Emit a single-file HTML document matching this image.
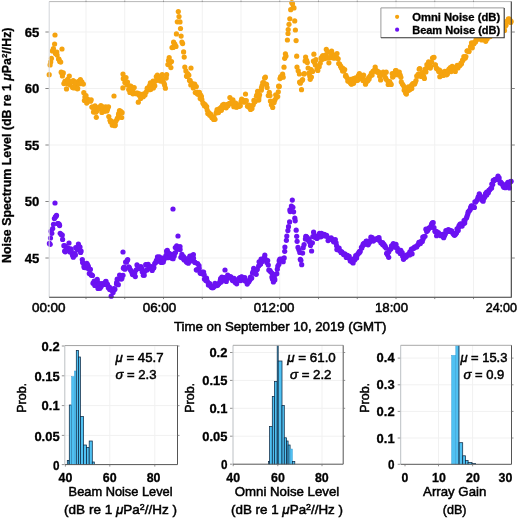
<!DOCTYPE html>
<html><head><meta charset="utf-8"><title>Noise spectrum level</title>
<style>html,body{margin:0;padding:0;background:#fff}svg{display:block}</style></head>
<body>
<svg width="520" height="519" viewBox="0 0 520 519" font-family="'Liberation Sans', sans-serif" fill="#000">
<style>text{stroke:#000;stroke-width:0.5px}text[font-weight=bold]{stroke-width:0.3px}</style>
<rect x="0" y="0" width="520" height="519" fill="#fff"/>
<path d="M86.00 1.6V297.3 M124.75 1.6V297.3 M163.50 1.6V297.3 M202.25 1.6V297.3 M241.00 1.6V297.3 M279.75 1.6V297.3 M318.50 1.6V297.3 M357.25 1.6V297.3 M396.00 1.6V297.3 M434.75 1.6V297.3 M473.50 1.6V297.3 M49.2 32.00H511.3 M49.2 88.50H511.3 M49.2 145.00H511.3 M49.2 201.50H511.3 M49.2 258.00H511.3" stroke="#f1f1f1" stroke-width="1" fill="none"/>
<g fill="#f5a30f"><circle cx="49.2" cy="74.7" r="2.6"/><circle cx="50.1" cy="64.9" r="2.6"/><circle cx="50.7" cy="61.9" r="2.6"/><circle cx="51.4" cy="58.4" r="2.6"/><circle cx="52.4" cy="51.0" r="2.6"/><circle cx="53.2" cy="50.2" r="2.6"/><circle cx="53.4" cy="48.6" r="2.6"/><circle cx="54.6" cy="44.0" r="2.6"/><circle cx="55.4" cy="53.2" r="2.6"/><circle cx="55.8" cy="53.6" r="2.6"/><circle cx="56.8" cy="52.0" r="2.6"/><circle cx="57.1" cy="55.1" r="2.6"/><circle cx="58.6" cy="59.0" r="2.6"/><circle cx="58.9" cy="59.1" r="2.6"/><circle cx="59.7" cy="61.4" r="2.6"/><circle cx="60.7" cy="62.1" r="2.6"/><circle cx="61.2" cy="72.2" r="2.6"/><circle cx="62.1" cy="73.2" r="2.6"/><circle cx="62.4" cy="75.9" r="2.6"/><circle cx="63.3" cy="72.9" r="2.6"/><circle cx="63.9" cy="83.6" r="2.6"/><circle cx="64.9" cy="81.3" r="2.6"/><circle cx="66.0" cy="81.0" r="2.6"/><circle cx="66.5" cy="88.9" r="2.6"/><circle cx="67.4" cy="83.7" r="2.6"/><circle cx="67.7" cy="79.3" r="2.6"/><circle cx="68.5" cy="81.7" r="2.6"/><circle cx="69.3" cy="76.0" r="2.6"/><circle cx="70.3" cy="85.1" r="2.6"/><circle cx="71.0" cy="81.8" r="2.6"/><circle cx="71.7" cy="81.6" r="2.6"/><circle cx="72.6" cy="87.5" r="2.6"/><circle cx="73.2" cy="80.7" r="2.6"/><circle cx="73.9" cy="87.9" r="2.6"/><circle cx="75.0" cy="81.8" r="2.6"/><circle cx="75.3" cy="85.4" r="2.6"/><circle cx="76.2" cy="82.6" r="2.6"/><circle cx="77.4" cy="88.8" r="2.6"/><circle cx="77.7" cy="88.4" r="2.6"/><circle cx="78.6" cy="81.4" r="2.6"/><circle cx="79.0" cy="83.6" r="2.6"/><circle cx="80.4" cy="79.6" r="2.6"/><circle cx="80.1" cy="83.7" r="2.6"/><circle cx="81.2" cy="82.2" r="2.6"/><circle cx="81.9" cy="81.9" r="2.6"/><circle cx="83.4" cy="84.1" r="2.6"/><circle cx="83.8" cy="92.7" r="2.6"/><circle cx="84.4" cy="100.5" r="2.6"/><circle cx="84.9" cy="97.0" r="2.6"/><circle cx="86.0" cy="95.5" r="2.6"/><circle cx="86.7" cy="103.1" r="2.6"/><circle cx="87.3" cy="99.1" r="2.6"/><circle cx="87.8" cy="99.5" r="2.6"/><circle cx="88.7" cy="100.7" r="2.6"/><circle cx="89.8" cy="100.3" r="2.6"/><circle cx="90.5" cy="101.2" r="2.6"/><circle cx="91.2" cy="99.8" r="2.6"/><circle cx="91.9" cy="107.0" r="2.6"/><circle cx="92.3" cy="107.0" r="2.6"/><circle cx="93.5" cy="112.1" r="2.6"/><circle cx="93.9" cy="109.0" r="2.6"/><circle cx="95.0" cy="105.9" r="2.6"/><circle cx="95.8" cy="112.2" r="2.6"/><circle cx="96.3" cy="117.3" r="2.6"/><circle cx="96.9" cy="110.7" r="2.6"/><circle cx="98.2" cy="108.6" r="2.6"/><circle cx="98.8" cy="107.3" r="2.6"/><circle cx="99.3" cy="107.3" r="2.6"/><circle cx="99.4" cy="109.0" r="2.6"/><circle cx="100.9" cy="105.7" r="2.6"/><circle cx="101.9" cy="112.5" r="2.6"/><circle cx="102.7" cy="106.8" r="2.6"/><circle cx="103.0" cy="107.3" r="2.6"/><circle cx="103.8" cy="111.0" r="2.6"/><circle cx="104.6" cy="111.2" r="2.6"/><circle cx="105.7" cy="106.9" r="2.6"/><circle cx="105.9" cy="109.1" r="2.6"/><circle cx="106.9" cy="111.0" r="2.6"/><circle cx="107.5" cy="109.2" r="2.6"/><circle cx="108.5" cy="106.8" r="2.6"/><circle cx="108.8" cy="116.6" r="2.6"/><circle cx="110.0" cy="120.3" r="2.6"/><circle cx="110.6" cy="122.0" r="2.6"/><circle cx="111.4" cy="121.2" r="2.6"/><circle cx="112.3" cy="125.2" r="2.6"/><circle cx="113.2" cy="122.9" r="2.6"/><circle cx="113.3" cy="122.6" r="2.6"/><circle cx="114.7" cy="125.7" r="2.6"/><circle cx="115.3" cy="124.9" r="2.6"/><circle cx="115.9" cy="121.0" r="2.6"/><circle cx="117.1" cy="119.1" r="2.6"/><circle cx="117.5" cy="118.0" r="2.6"/><circle cx="118.5" cy="114.7" r="2.6"/><circle cx="118.8" cy="113.4" r="2.6"/><circle cx="119.5" cy="110.6" r="2.6"/><circle cx="120.8" cy="111.4" r="2.6"/><circle cx="121.7" cy="117.5" r="2.6"/><circle cx="122.1" cy="112.7" r="2.6"/><circle cx="122.9" cy="87.9" r="2.6"/><circle cx="123.3" cy="78.7" r="2.6"/><circle cx="123.9" cy="77.9" r="2.6"/><circle cx="124.9" cy="82.6" r="2.6"/><circle cx="126.1" cy="83.1" r="2.6"/><circle cx="126.0" cy="77.5" r="2.6"/><circle cx="127.1" cy="84.9" r="2.6"/><circle cx="127.5" cy="82.0" r="2.6"/><circle cx="128.7" cy="89.6" r="2.6"/><circle cx="129.7" cy="86.1" r="2.6"/><circle cx="129.9" cy="92.4" r="2.6"/><circle cx="130.8" cy="86.0" r="2.6"/><circle cx="132.0" cy="87.6" r="2.6"/><circle cx="132.4" cy="90.5" r="2.6"/><circle cx="132.9" cy="93.8" r="2.6"/><circle cx="133.6" cy="92.9" r="2.6"/><circle cx="134.2" cy="87.5" r="2.6"/><circle cx="135.6" cy="93.2" r="2.6"/><circle cx="136.0" cy="93.7" r="2.6"/><circle cx="137.2" cy="93.1" r="2.6"/><circle cx="137.9" cy="93.4" r="2.6"/><circle cx="138.3" cy="102.2" r="2.6"/><circle cx="139.1" cy="95.3" r="2.6"/><circle cx="140.1" cy="94.1" r="2.6"/><circle cx="140.7" cy="98.5" r="2.6"/><circle cx="141.5" cy="96.0" r="2.6"/><circle cx="141.8" cy="94.5" r="2.6"/><circle cx="143.2" cy="96.7" r="2.6"/><circle cx="143.5" cy="95.0" r="2.6"/><circle cx="143.9" cy="93.8" r="2.6"/><circle cx="145.0" cy="95.1" r="2.6"/><circle cx="146.1" cy="92.0" r="2.6"/><circle cx="147.2" cy="88.4" r="2.6"/><circle cx="147.4" cy="88.8" r="2.6"/><circle cx="147.9" cy="87.8" r="2.6"/><circle cx="149.5" cy="89.7" r="2.6"/><circle cx="149.7" cy="85.3" r="2.6"/><circle cx="150.4" cy="82.8" r="2.6"/><circle cx="150.9" cy="89.3" r="2.6"/><circle cx="151.7" cy="84.5" r="2.6"/><circle cx="153.1" cy="81.2" r="2.6"/><circle cx="153.4" cy="87.9" r="2.6"/><circle cx="154.1" cy="82.9" r="2.6"/><circle cx="154.8" cy="85.8" r="2.6"/><circle cx="156.1" cy="80.4" r="2.6"/><circle cx="156.3" cy="76.6" r="2.6"/><circle cx="157.4" cy="75.0" r="2.6"/><circle cx="158.0" cy="78.2" r="2.6"/><circle cx="158.8" cy="79.8" r="2.6"/><circle cx="159.2" cy="78.7" r="2.6"/><circle cx="160.4" cy="80.9" r="2.6"/><circle cx="161.4" cy="76.3" r="2.6"/><circle cx="161.7" cy="80.9" r="2.6"/><circle cx="162.2" cy="74.7" r="2.6"/><circle cx="162.9" cy="79.6" r="2.6"/><circle cx="164.0" cy="83.0" r="2.6"/><circle cx="164.6" cy="84.9" r="2.6"/><circle cx="165.4" cy="88.2" r="2.6"/><circle cx="166.2" cy="78.1" r="2.6"/><circle cx="166.6" cy="74.7" r="2.6"/><circle cx="167.9" cy="64.6" r="2.6"/><circle cx="168.5" cy="60.6" r="2.6"/><circle cx="169.2" cy="57.7" r="2.6"/><circle cx="170.0" cy="62.8" r="2.6"/><circle cx="170.9" cy="67.6" r="2.6"/><circle cx="171.5" cy="61.6" r="2.6"/><circle cx="172.0" cy="47.6" r="2.6"/><circle cx="173.2" cy="47.4" r="2.6"/><circle cx="173.6" cy="42.2" r="2.6"/><circle cx="174.3" cy="45.2" r="2.6"/><circle cx="174.8" cy="44.1" r="2.6"/><circle cx="176.0" cy="46.4" r="2.6"/><circle cx="176.4" cy="33.9" r="2.6"/><circle cx="177.3" cy="21.8" r="2.6"/><circle cx="178.3" cy="11.6" r="2.6"/><circle cx="179.0" cy="16.5" r="2.6"/><circle cx="180.0" cy="21.9" r="2.6"/><circle cx="180.5" cy="28.5" r="2.6"/><circle cx="181.1" cy="36.1" r="2.6"/><circle cx="181.9" cy="42.0" r="2.6"/><circle cx="182.6" cy="43.6" r="2.6"/><circle cx="183.6" cy="51.9" r="2.6"/><circle cx="184.2" cy="57.1" r="2.6"/><circle cx="184.8" cy="67.1" r="2.6"/><circle cx="185.9" cy="70.9" r="2.6"/><circle cx="186.5" cy="76.0" r="2.6"/><circle cx="187.1" cy="76.4" r="2.6"/><circle cx="187.6" cy="73.6" r="2.6"/><circle cx="188.8" cy="75.2" r="2.6"/><circle cx="189.5" cy="80.4" r="2.6"/><circle cx="190.2" cy="80.5" r="2.6"/><circle cx="190.8" cy="84.9" r="2.6"/><circle cx="191.5" cy="84.4" r="2.6"/><circle cx="192.4" cy="83.6" r="2.6"/><circle cx="193.3" cy="87.9" r="2.6"/><circle cx="193.9" cy="85.5" r="2.6"/><circle cx="194.7" cy="84.2" r="2.6"/><circle cx="195.3" cy="92.6" r="2.6"/><circle cx="196.3" cy="86.5" r="2.6"/><circle cx="197.0" cy="92.1" r="2.6"/><circle cx="197.5" cy="94.1" r="2.6"/><circle cx="198.6" cy="94.2" r="2.6"/><circle cx="199.4" cy="92.3" r="2.6"/><circle cx="200.2" cy="98.4" r="2.6"/><circle cx="200.7" cy="95.2" r="2.6"/><circle cx="201.4" cy="96.6" r="2.6"/><circle cx="201.9" cy="99.7" r="2.6"/><circle cx="203.1" cy="103.1" r="2.6"/><circle cx="203.2" cy="103.4" r="2.6"/><circle cx="204.4" cy="105.7" r="2.6"/><circle cx="205.1" cy="104.6" r="2.6"/><circle cx="206.2" cy="106.9" r="2.6"/><circle cx="206.7" cy="106.6" r="2.6"/><circle cx="207.2" cy="110.1" r="2.6"/><circle cx="207.8" cy="113.5" r="2.6"/><circle cx="208.8" cy="112.6" r="2.6"/><circle cx="209.7" cy="115.3" r="2.6"/><circle cx="210.5" cy="114.0" r="2.6"/><circle cx="211.2" cy="115.0" r="2.6"/><circle cx="211.8" cy="117.5" r="2.6"/><circle cx="212.6" cy="118.1" r="2.6"/><circle cx="213.7" cy="119.5" r="2.6"/><circle cx="213.9" cy="117.0" r="2.6"/><circle cx="215.0" cy="119.3" r="2.6"/><circle cx="216.1" cy="113.1" r="2.6"/><circle cx="216.6" cy="112.1" r="2.6"/><circle cx="217.1" cy="109.6" r="2.6"/><circle cx="218.1" cy="111.6" r="2.6"/><circle cx="218.5" cy="112.6" r="2.6"/><circle cx="219.5" cy="108.6" r="2.6"/><circle cx="220.6" cy="109.6" r="2.6"/><circle cx="221.4" cy="110.3" r="2.6"/><circle cx="221.3" cy="107.1" r="2.6"/><circle cx="222.6" cy="105.1" r="2.6"/><circle cx="223.7" cy="107.5" r="2.6"/><circle cx="223.8" cy="104.3" r="2.6"/><circle cx="224.8" cy="105.3" r="2.6"/><circle cx="225.8" cy="107.5" r="2.6"/><circle cx="226.1" cy="107.8" r="2.6"/><circle cx="227.1" cy="104.6" r="2.6"/><circle cx="227.7" cy="104.6" r="2.6"/><circle cx="228.0" cy="105.8" r="2.6"/><circle cx="229.3" cy="103.3" r="2.6"/><circle cx="229.9" cy="97.5" r="2.6"/><circle cx="230.9" cy="103.7" r="2.6"/><circle cx="232.0" cy="100.6" r="2.6"/><circle cx="232.4" cy="103.4" r="2.6"/><circle cx="232.9" cy="99.8" r="2.6"/><circle cx="233.8" cy="106.7" r="2.6"/><circle cx="234.5" cy="103.2" r="2.6"/><circle cx="235.5" cy="105.3" r="2.6"/><circle cx="235.6" cy="103.2" r="2.6"/><circle cx="236.4" cy="107.2" r="2.6"/><circle cx="236.9" cy="106.8" r="2.6"/><circle cx="238.4" cy="106.0" r="2.6"/><circle cx="238.9" cy="106.5" r="2.6"/><circle cx="239.5" cy="104.5" r="2.6"/><circle cx="240.3" cy="105.7" r="2.6"/><circle cx="241.1" cy="101.3" r="2.6"/><circle cx="241.7" cy="99.0" r="2.6"/><circle cx="242.6" cy="100.4" r="2.6"/><circle cx="243.3" cy="101.2" r="2.6"/><circle cx="244.5" cy="102.2" r="2.6"/><circle cx="245.0" cy="100.7" r="2.6"/><circle cx="245.5" cy="94.0" r="2.6"/><circle cx="246.3" cy="100.7" r="2.6"/><circle cx="247.5" cy="106.3" r="2.6"/><circle cx="248.1" cy="106.0" r="2.6"/><circle cx="248.8" cy="105.2" r="2.6"/><circle cx="249.6" cy="107.7" r="2.6"/><circle cx="250.6" cy="106.3" r="2.6"/><circle cx="250.6" cy="109.5" r="2.6"/><circle cx="251.5" cy="106.6" r="2.6"/><circle cx="252.0" cy="108.4" r="2.6"/><circle cx="253.3" cy="104.8" r="2.6"/><circle cx="253.9" cy="100.4" r="2.6"/><circle cx="254.5" cy="102.1" r="2.6"/><circle cx="255.3" cy="101.3" r="2.6"/><circle cx="256.4" cy="96.2" r="2.6"/><circle cx="256.9" cy="95.1" r="2.6"/><circle cx="257.6" cy="91.4" r="2.6"/><circle cx="258.8" cy="100.1" r="2.6"/><circle cx="258.9" cy="97.5" r="2.6"/><circle cx="259.6" cy="94.8" r="2.6"/><circle cx="261.3" cy="90.2" r="2.6"/><circle cx="261.4" cy="87.9" r="2.6"/><circle cx="262.1" cy="85.6" r="2.6"/><circle cx="262.8" cy="82.5" r="2.6"/><circle cx="263.7" cy="82.9" r="2.6"/><circle cx="264.6" cy="78.1" r="2.6"/><circle cx="265.4" cy="77.2" r="2.6"/><circle cx="266.1" cy="84.0" r="2.6"/><circle cx="266.6" cy="84.6" r="2.6"/><circle cx="267.1" cy="87.5" r="2.6"/><circle cx="268.3" cy="95.6" r="2.6"/><circle cx="269.3" cy="92.3" r="2.6"/><circle cx="270.0" cy="95.5" r="2.6"/><circle cx="270.4" cy="101.0" r="2.6"/><circle cx="271.4" cy="104.8" r="2.6"/><circle cx="271.9" cy="101.9" r="2.6"/><circle cx="272.7" cy="107.4" r="2.6"/><circle cx="273.1" cy="101.7" r="2.6"/><circle cx="274.1" cy="102.4" r="2.6"/><circle cx="275.0" cy="99.7" r="2.6"/><circle cx="275.7" cy="94.8" r="2.6"/><circle cx="276.6" cy="97.3" r="2.6"/><circle cx="277.7" cy="96.6" r="2.6"/><circle cx="278.3" cy="91.8" r="2.6"/><circle cx="278.6" cy="86.2" r="2.6"/><circle cx="279.3" cy="86.4" r="2.6"/><circle cx="280.0" cy="78.6" r="2.6"/><circle cx="280.7" cy="76.5" r="2.6"/><circle cx="281.7" cy="77.0" r="2.6"/><circle cx="282.6" cy="74.2" r="2.6"/><circle cx="283.2" cy="77.2" r="2.6"/><circle cx="284.0" cy="67.2" r="2.6"/><circle cx="284.7" cy="58.3" r="2.6"/><circle cx="285.4" cy="53.8" r="2.6"/><circle cx="286.0" cy="56.0" r="2.6"/><circle cx="287.4" cy="40.0" r="2.6"/><circle cx="288.0" cy="33.5" r="2.6"/><circle cx="288.2" cy="29.5" r="2.6"/><circle cx="289.0" cy="24.3" r="2.6"/><circle cx="289.8" cy="18.8" r="2.6"/><circle cx="290.7" cy="9.7" r="2.6"/><circle cx="291.8" cy="2.7" r="2.6"/><circle cx="292.5" cy="3.8" r="2.6"/><circle cx="293.2" cy="7.5" r="2.6"/><circle cx="294.0" cy="7.9" r="2.6"/><circle cx="294.7" cy="20.9" r="2.6"/><circle cx="295.4" cy="30.0" r="2.6"/><circle cx="296.1" cy="40.6" r="2.6"/><circle cx="296.7" cy="56.2" r="2.6"/><circle cx="297.0" cy="67.1" r="2.6"/><circle cx="298.2" cy="70.8" r="2.6"/><circle cx="299.4" cy="74.0" r="2.6"/><circle cx="299.6" cy="82.0" r="2.6"/><circle cx="300.3" cy="83.2" r="2.6"/><circle cx="301.5" cy="89.7" r="2.6"/><circle cx="302.0" cy="80.5" r="2.6"/><circle cx="302.6" cy="79.5" r="2.6"/><circle cx="303.8" cy="74.0" r="2.6"/><circle cx="304.4" cy="73.7" r="2.6"/><circle cx="305.1" cy="61.0" r="2.6"/><circle cx="305.6" cy="57.0" r="2.6"/><circle cx="306.6" cy="60.3" r="2.6"/><circle cx="307.3" cy="62.6" r="2.6"/><circle cx="308.1" cy="68.0" r="2.6"/><circle cx="309.0" cy="73.0" r="2.6"/><circle cx="309.7" cy="75.9" r="2.6"/><circle cx="310.2" cy="79.3" r="2.6"/><circle cx="311.1" cy="69.5" r="2.6"/><circle cx="311.4" cy="77.0" r="2.6"/><circle cx="312.6" cy="71.5" r="2.6"/><circle cx="313.4" cy="61.0" r="2.6"/><circle cx="313.9" cy="54.2" r="2.6"/><circle cx="314.5" cy="62.6" r="2.6"/><circle cx="315.4" cy="64.9" r="2.6"/><circle cx="315.9" cy="59.7" r="2.6"/><circle cx="317.0" cy="69.1" r="2.6"/><circle cx="317.8" cy="70.5" r="2.6"/><circle cx="318.2" cy="66.9" r="2.6"/><circle cx="319.2" cy="66.7" r="2.6"/><circle cx="320.2" cy="63.3" r="2.6"/><circle cx="321.0" cy="58.1" r="2.6"/><circle cx="321.7" cy="59.7" r="2.6"/><circle cx="322.2" cy="56.6" r="2.6"/><circle cx="322.9" cy="55.7" r="2.6"/><circle cx="323.6" cy="57.8" r="2.6"/><circle cx="324.6" cy="58.6" r="2.6"/><circle cx="325.8" cy="54.8" r="2.6"/><circle cx="326.3" cy="49.4" r="2.6"/><circle cx="327.1" cy="58.1" r="2.6"/><circle cx="327.8" cy="51.9" r="2.6"/><circle cx="327.8" cy="57.5" r="2.6"/><circle cx="328.9" cy="62.8" r="2.6"/><circle cx="329.6" cy="57.8" r="2.6"/><circle cx="330.8" cy="53.5" r="2.6"/><circle cx="331.6" cy="51.2" r="2.6"/><circle cx="331.8" cy="57.6" r="2.6"/><circle cx="332.7" cy="54.4" r="2.6"/><circle cx="333.6" cy="56.6" r="2.6"/><circle cx="334.1" cy="58.2" r="2.6"/><circle cx="334.8" cy="55.8" r="2.6"/><circle cx="335.5" cy="57.2" r="2.6"/><circle cx="336.7" cy="57.6" r="2.6"/><circle cx="337.0" cy="53.6" r="2.6"/><circle cx="338.2" cy="58.8" r="2.6"/><circle cx="338.7" cy="63.5" r="2.6"/><circle cx="339.6" cy="64.0" r="2.6"/><circle cx="340.6" cy="66.3" r="2.6"/><circle cx="340.8" cy="66.3" r="2.6"/><circle cx="341.5" cy="68.2" r="2.6"/><circle cx="342.6" cy="70.9" r="2.6"/><circle cx="342.9" cy="68.4" r="2.6"/><circle cx="343.8" cy="71.0" r="2.6"/><circle cx="344.7" cy="69.6" r="2.6"/><circle cx="345.5" cy="76.0" r="2.6"/><circle cx="345.9" cy="75.4" r="2.6"/><circle cx="346.9" cy="77.6" r="2.6"/><circle cx="347.8" cy="80.9" r="2.6"/><circle cx="348.8" cy="81.2" r="2.6"/><circle cx="348.7" cy="80.1" r="2.6"/><circle cx="350.3" cy="82.8" r="2.6"/><circle cx="350.9" cy="79.4" r="2.6"/><circle cx="351.2" cy="84.1" r="2.6"/><circle cx="351.8" cy="83.9" r="2.6"/><circle cx="353.1" cy="78.9" r="2.6"/><circle cx="353.6" cy="83.3" r="2.6"/><circle cx="354.5" cy="78.3" r="2.6"/><circle cx="355.4" cy="80.6" r="2.6"/><circle cx="355.9" cy="77.9" r="2.6"/><circle cx="356.7" cy="80.2" r="2.6"/><circle cx="357.6" cy="80.3" r="2.6"/><circle cx="358.4" cy="75.5" r="2.6"/><circle cx="359.4" cy="73.6" r="2.6"/><circle cx="360.1" cy="75.9" r="2.6"/><circle cx="360.5" cy="78.3" r="2.6"/><circle cx="361.1" cy="76.9" r="2.6"/><circle cx="362.5" cy="77.4" r="2.6"/><circle cx="362.9" cy="80.6" r="2.6"/><circle cx="363.6" cy="75.1" r="2.6"/><circle cx="363.9" cy="80.3" r="2.6"/><circle cx="365.1" cy="79.8" r="2.6"/><circle cx="365.5" cy="84.2" r="2.6"/><circle cx="366.3" cy="81.9" r="2.6"/><circle cx="366.9" cy="80.2" r="2.6"/><circle cx="367.8" cy="80.7" r="2.6"/><circle cx="368.7" cy="77.5" r="2.6"/><circle cx="369.1" cy="79.1" r="2.6"/><circle cx="370.0" cy="76.2" r="2.6"/><circle cx="370.9" cy="75.3" r="2.6"/><circle cx="371.4" cy="73.2" r="2.6"/><circle cx="372.1" cy="74.9" r="2.6"/><circle cx="373.0" cy="71.4" r="2.6"/><circle cx="373.6" cy="71.1" r="2.6"/><circle cx="374.9" cy="69.6" r="2.6"/><circle cx="375.2" cy="67.0" r="2.6"/><circle cx="376.4" cy="70.7" r="2.6"/><circle cx="377.2" cy="71.3" r="2.6"/><circle cx="377.4" cy="72.2" r="2.6"/><circle cx="378.5" cy="71.8" r="2.6"/><circle cx="379.1" cy="72.7" r="2.6"/><circle cx="379.7" cy="76.2" r="2.6"/><circle cx="380.6" cy="80.0" r="2.6"/><circle cx="381.4" cy="73.6" r="2.6"/><circle cx="382.4" cy="75.1" r="2.6"/><circle cx="383.2" cy="72.0" r="2.6"/><circle cx="383.4" cy="73.1" r="2.6"/><circle cx="384.3" cy="73.5" r="2.6"/><circle cx="385.3" cy="77.3" r="2.6"/><circle cx="386.2" cy="72.2" r="2.6"/><circle cx="386.1" cy="79.2" r="2.6"/><circle cx="387.8" cy="81.1" r="2.6"/><circle cx="388.2" cy="84.5" r="2.6"/><circle cx="389.3" cy="82.3" r="2.6"/><circle cx="389.6" cy="81.5" r="2.6"/><circle cx="390.2" cy="83.1" r="2.6"/><circle cx="391.2" cy="84.4" r="2.6"/><circle cx="392.2" cy="73.5" r="2.6"/><circle cx="392.7" cy="77.0" r="2.6"/><circle cx="392.9" cy="76.7" r="2.6"/><circle cx="394.4" cy="74.8" r="2.6"/><circle cx="394.5" cy="73.4" r="2.6"/><circle cx="395.5" cy="70.6" r="2.6"/><circle cx="396.2" cy="70.7" r="2.6"/><circle cx="396.7" cy="73.6" r="2.6"/><circle cx="397.6" cy="74.8" r="2.6"/><circle cx="398.5" cy="73.3" r="2.6"/><circle cx="399.3" cy="72.0" r="2.6"/><circle cx="400.2" cy="75.0" r="2.6"/><circle cx="400.9" cy="77.3" r="2.6"/><circle cx="401.3" cy="81.9" r="2.6"/><circle cx="402.4" cy="84.0" r="2.6"/><circle cx="403.4" cy="85.6" r="2.6"/><circle cx="404.2" cy="90.2" r="2.6"/><circle cx="404.7" cy="88.3" r="2.6"/><circle cx="405.6" cy="93.1" r="2.6"/><circle cx="406.4" cy="94.1" r="2.6"/><circle cx="407.3" cy="88.4" r="2.6"/><circle cx="408.1" cy="90.6" r="2.6"/><circle cx="408.4" cy="86.8" r="2.6"/><circle cx="409.1" cy="90.0" r="2.6"/><circle cx="410.3" cy="89.2" r="2.6"/><circle cx="411.1" cy="86.4" r="2.6"/><circle cx="411.8" cy="88.4" r="2.6"/><circle cx="411.6" cy="85.0" r="2.6"/><circle cx="412.9" cy="84.1" r="2.6"/><circle cx="412.9" cy="83.7" r="2.6"/><circle cx="414.6" cy="84.1" r="2.6"/><circle cx="415.2" cy="82.6" r="2.6"/><circle cx="416.0" cy="80.5" r="2.6"/><circle cx="416.7" cy="76.0" r="2.6"/><circle cx="417.8" cy="76.2" r="2.6"/><circle cx="418.1" cy="74.4" r="2.6"/><circle cx="419.2" cy="69.2" r="2.6"/><circle cx="419.8" cy="68.5" r="2.6"/><circle cx="420.5" cy="74.3" r="2.6"/><circle cx="421.3" cy="76.4" r="2.6"/><circle cx="422.0" cy="74.3" r="2.6"/><circle cx="422.4" cy="72.6" r="2.6"/><circle cx="423.6" cy="76.2" r="2.6"/><circle cx="424.4" cy="78.4" r="2.6"/><circle cx="424.9" cy="69.4" r="2.6"/><circle cx="425.9" cy="71.9" r="2.6"/><circle cx="426.7" cy="68.0" r="2.6"/><circle cx="426.9" cy="64.7" r="2.6"/><circle cx="427.9" cy="65.1" r="2.6"/><circle cx="428.6" cy="61.9" r="2.6"/><circle cx="429.2" cy="65.6" r="2.6"/><circle cx="430.3" cy="68.1" r="2.6"/><circle cx="430.7" cy="66.3" r="2.6"/><circle cx="431.6" cy="62.1" r="2.6"/><circle cx="432.5" cy="58.1" r="2.6"/><circle cx="433.3" cy="57.6" r="2.6"/><circle cx="434.0" cy="57.3" r="2.6"/><circle cx="435.3" cy="64.9" r="2.6"/><circle cx="435.3" cy="65.1" r="2.6"/><circle cx="436.3" cy="68.1" r="2.6"/><circle cx="436.6" cy="68.4" r="2.6"/><circle cx="437.8" cy="69.6" r="2.6"/><circle cx="438.7" cy="71.6" r="2.6"/><circle cx="439.5" cy="70.2" r="2.6"/><circle cx="439.8" cy="76.7" r="2.6"/><circle cx="440.6" cy="72.3" r="2.6"/><circle cx="441.8" cy="72.2" r="2.6"/><circle cx="442.2" cy="73.8" r="2.6"/><circle cx="443.2" cy="75.5" r="2.6"/><circle cx="443.5" cy="74.7" r="2.6"/><circle cx="444.8" cy="71.4" r="2.6"/><circle cx="445.5" cy="73.3" r="2.6"/><circle cx="446.1" cy="73.6" r="2.6"/><circle cx="446.5" cy="74.8" r="2.6"/><circle cx="447.4" cy="73.9" r="2.6"/><circle cx="448.2" cy="70.7" r="2.6"/><circle cx="449.0" cy="69.1" r="2.6"/><circle cx="449.7" cy="70.7" r="2.6"/><circle cx="450.4" cy="67.6" r="2.6"/><circle cx="451.2" cy="71.6" r="2.6"/><circle cx="452.3" cy="68.8" r="2.6"/><circle cx="452.2" cy="66.4" r="2.6"/><circle cx="453.1" cy="67.7" r="2.6"/><circle cx="453.8" cy="67.9" r="2.6"/><circle cx="454.8" cy="69.1" r="2.6"/><circle cx="455.3" cy="71.4" r="2.6"/><circle cx="456.6" cy="67.0" r="2.6"/><circle cx="457.2" cy="65.3" r="2.6"/><circle cx="457.9" cy="68.0" r="2.6"/><circle cx="458.5" cy="66.1" r="2.6"/><circle cx="459.5" cy="65.7" r="2.6"/><circle cx="460.2" cy="65.1" r="2.6"/><circle cx="461.0" cy="63.1" r="2.6"/><circle cx="461.5" cy="63.7" r="2.6"/><circle cx="462.6" cy="60.0" r="2.6"/><circle cx="462.8" cy="60.5" r="2.6"/><circle cx="464.3" cy="58.1" r="2.6"/><circle cx="463.9" cy="56.6" r="2.6"/><circle cx="465.3" cy="58.1" r="2.6"/><circle cx="465.9" cy="56.5" r="2.6"/><circle cx="467.1" cy="51.0" r="2.6"/><circle cx="467.3" cy="50.8" r="2.6"/><circle cx="468.9" cy="51.6" r="2.6"/><circle cx="468.8" cy="51.3" r="2.6"/><circle cx="470.5" cy="47.0" r="2.6"/><circle cx="470.8" cy="46.3" r="2.6"/><circle cx="471.5" cy="42.8" r="2.6"/><circle cx="472.3" cy="47.8" r="2.6"/><circle cx="473.5" cy="43.8" r="2.6"/><circle cx="473.9" cy="43.7" r="2.6"/><circle cx="473.9" cy="42.5" r="2.6"/><circle cx="475.5" cy="41.9" r="2.6"/><circle cx="476.0" cy="40.4" r="2.6"/><circle cx="476.3" cy="37.9" r="2.6"/><circle cx="477.6" cy="38.9" r="2.6"/><circle cx="477.9" cy="37.3" r="2.6"/><circle cx="479.0" cy="38.8" r="2.6"/><circle cx="479.8" cy="35.0" r="2.6"/><circle cx="480.3" cy="35.6" r="2.6"/><circle cx="481.4" cy="38.3" r="2.6"/><circle cx="481.7" cy="40.0" r="2.6"/><circle cx="482.7" cy="38.9" r="2.6"/><circle cx="483.3" cy="38.3" r="2.6"/><circle cx="484.2" cy="39.6" r="2.6"/><circle cx="485.4" cy="38.3" r="2.6"/><circle cx="485.7" cy="41.3" r="2.6"/><circle cx="486.2" cy="39.0" r="2.6"/><circle cx="487.2" cy="38.8" r="2.6"/><circle cx="487.8" cy="36.5" r="2.6"/><circle cx="488.7" cy="34.4" r="2.6"/><circle cx="489.5" cy="36.4" r="2.6"/><circle cx="490.2" cy="36.6" r="2.6"/><circle cx="491.0" cy="34.6" r="2.6"/><circle cx="491.6" cy="33.3" r="2.6"/><circle cx="492.6" cy="34.7" r="2.6"/><circle cx="493.5" cy="32.1" r="2.6"/><circle cx="493.8" cy="33.6" r="2.6"/><circle cx="494.7" cy="31.0" r="2.6"/><circle cx="495.5" cy="30.3" r="2.6"/><circle cx="496.5" cy="32.4" r="2.6"/><circle cx="497.2" cy="31.8" r="2.6"/><circle cx="497.5" cy="34.0" r="2.6"/><circle cx="498.5" cy="30.2" r="2.6"/><circle cx="498.8" cy="30.4" r="2.6"/><circle cx="499.7" cy="28.2" r="2.6"/><circle cx="500.7" cy="26.7" r="2.6"/><circle cx="501.6" cy="26.6" r="2.6"/><circle cx="502.4" cy="29.9" r="2.6"/><circle cx="502.9" cy="26.9" r="2.6"/><circle cx="503.4" cy="30.3" r="2.6"/><circle cx="504.5" cy="30.5" r="2.6"/><circle cx="505.2" cy="26.3" r="2.6"/><circle cx="506.1" cy="25.0" r="2.6"/><circle cx="506.7" cy="21.3" r="2.6"/><circle cx="507.6" cy="21.6" r="2.6"/><circle cx="508.4" cy="18.8" r="2.6"/><circle cx="509.2" cy="21.5" r="2.6"/><circle cx="509.6" cy="19.2" r="2.6"/><circle cx="510.7" cy="22.4" r="2.6"/><circle cx="511.1" cy="21.3" r="2.6"/><circle cx="55.0" cy="35.0" r="2.6"/><circle cx="62.0" cy="49.0" r="2.6"/><circle cx="114.0" cy="96.0" r="2.6"/><circle cx="191.0" cy="68.0" r="2.6"/><circle cx="123.0" cy="74.0" r="2.6"/></g>
<g fill="#6b12f2"><circle cx="49.4" cy="243.4" r="2.6"/><circle cx="50.2" cy="244.3" r="2.6"/><circle cx="50.5" cy="238.0" r="2.6"/><circle cx="51.0" cy="231.2" r="2.6"/><circle cx="51.8" cy="233.3" r="2.6"/><circle cx="52.7" cy="228.5" r="2.6"/><circle cx="53.5" cy="224.3" r="2.6"/><circle cx="54.4" cy="218.6" r="2.6"/><circle cx="55.4" cy="216.9" r="2.6"/><circle cx="56.2" cy="216.0" r="2.6"/><circle cx="56.5" cy="215.3" r="2.6"/><circle cx="57.6" cy="223.5" r="2.6"/><circle cx="58.4" cy="223.5" r="2.6"/><circle cx="59.3" cy="224.4" r="2.6"/><circle cx="59.6" cy="225.6" r="2.6"/><circle cx="60.2" cy="233.3" r="2.6"/><circle cx="61.4" cy="234.7" r="2.6"/><circle cx="62.3" cy="235.0" r="2.6"/><circle cx="62.6" cy="239.4" r="2.6"/><circle cx="63.9" cy="245.7" r="2.6"/><circle cx="64.6" cy="251.0" r="2.6"/><circle cx="64.9" cy="245.9" r="2.6"/><circle cx="65.3" cy="251.8" r="2.6"/><circle cx="66.3" cy="249.3" r="2.6"/><circle cx="67.1" cy="247.9" r="2.6"/><circle cx="68.1" cy="248.2" r="2.6"/><circle cx="68.3" cy="250.4" r="2.6"/><circle cx="70.0" cy="252.1" r="2.6"/><circle cx="70.8" cy="248.8" r="2.6"/><circle cx="70.8" cy="251.6" r="2.6"/><circle cx="71.2" cy="250.5" r="2.6"/><circle cx="72.4" cy="255.0" r="2.6"/><circle cx="73.3" cy="257.2" r="2.6"/><circle cx="74.3" cy="253.6" r="2.6"/><circle cx="74.9" cy="254.1" r="2.6"/><circle cx="75.4" cy="255.1" r="2.6"/><circle cx="75.7" cy="247.7" r="2.6"/><circle cx="77.1" cy="249.3" r="2.6"/><circle cx="77.9" cy="249.9" r="2.6"/><circle cx="78.4" cy="244.1" r="2.6"/><circle cx="79.3" cy="246.5" r="2.6"/><circle cx="80.0" cy="247.1" r="2.6"/><circle cx="80.6" cy="252.5" r="2.6"/><circle cx="81.1" cy="251.0" r="2.6"/><circle cx="82.3" cy="259.6" r="2.6"/><circle cx="82.6" cy="262.4" r="2.6"/><circle cx="84.0" cy="266.0" r="2.6"/><circle cx="84.2" cy="267.5" r="2.6"/><circle cx="85.3" cy="266.9" r="2.6"/><circle cx="85.7" cy="267.7" r="2.6"/><circle cx="86.8" cy="263.3" r="2.6"/><circle cx="87.4" cy="264.7" r="2.6"/><circle cx="88.3" cy="266.2" r="2.6"/><circle cx="88.7" cy="269.1" r="2.6"/><circle cx="89.3" cy="273.5" r="2.6"/><circle cx="90.4" cy="269.4" r="2.6"/><circle cx="91.1" cy="274.9" r="2.6"/><circle cx="91.6" cy="274.9" r="2.6"/><circle cx="92.5" cy="275.5" r="2.6"/><circle cx="93.0" cy="283.2" r="2.6"/><circle cx="94.2" cy="281.2" r="2.6"/><circle cx="94.8" cy="285.5" r="2.6"/><circle cx="95.7" cy="285.1" r="2.6"/><circle cx="97.1" cy="280.9" r="2.6"/><circle cx="97.2" cy="279.4" r="2.6"/><circle cx="98.0" cy="288.5" r="2.6"/><circle cx="98.8" cy="284.2" r="2.6"/><circle cx="99.4" cy="283.7" r="2.6"/><circle cx="100.0" cy="288.3" r="2.6"/><circle cx="101.2" cy="286.4" r="2.6"/><circle cx="101.9" cy="283.8" r="2.6"/><circle cx="101.7" cy="283.8" r="2.6"/><circle cx="103.1" cy="284.2" r="2.6"/><circle cx="103.8" cy="283.5" r="2.6"/><circle cx="104.5" cy="284.5" r="2.6"/><circle cx="105.7" cy="281.6" r="2.6"/><circle cx="106.0" cy="281.4" r="2.6"/><circle cx="107.1" cy="284.3" r="2.6"/><circle cx="107.5" cy="284.4" r="2.6"/><circle cx="108.3" cy="287.8" r="2.6"/><circle cx="109.4" cy="287.1" r="2.6"/><circle cx="109.7" cy="289.6" r="2.6"/><circle cx="110.6" cy="288.9" r="2.6"/><circle cx="111.2" cy="296.2" r="2.6"/><circle cx="112.0" cy="290.5" r="2.6"/><circle cx="113.1" cy="292.5" r="2.6"/><circle cx="113.8" cy="288.6" r="2.6"/><circle cx="114.1" cy="289.8" r="2.6"/><circle cx="114.9" cy="289.2" r="2.6"/><circle cx="116.6" cy="282.5" r="2.6"/><circle cx="116.5" cy="284.1" r="2.6"/><circle cx="117.2" cy="279.2" r="2.6"/><circle cx="118.3" cy="284.7" r="2.6"/><circle cx="118.7" cy="279.1" r="2.6"/><circle cx="119.6" cy="275.1" r="2.6"/><circle cx="120.7" cy="275.8" r="2.6"/><circle cx="121.4" cy="279.1" r="2.6"/><circle cx="121.9" cy="278.3" r="2.6"/><circle cx="123.0" cy="275.3" r="2.6"/><circle cx="123.4" cy="268.2" r="2.6"/><circle cx="124.1" cy="267.2" r="2.6"/><circle cx="124.9" cy="269.2" r="2.6"/><circle cx="125.6" cy="262.1" r="2.6"/><circle cx="126.6" cy="262.0" r="2.6"/><circle cx="127.3" cy="260.3" r="2.6"/><circle cx="127.7" cy="259.5" r="2.6"/><circle cx="128.7" cy="266.8" r="2.6"/><circle cx="129.3" cy="267.7" r="2.6"/><circle cx="130.0" cy="269.3" r="2.6"/><circle cx="130.9" cy="270.5" r="2.6"/><circle cx="131.9" cy="272.5" r="2.6"/><circle cx="132.5" cy="274.6" r="2.6"/><circle cx="133.5" cy="272.4" r="2.6"/><circle cx="134.3" cy="273.2" r="2.6"/><circle cx="134.7" cy="273.1" r="2.6"/><circle cx="135.3" cy="276.6" r="2.6"/><circle cx="136.0" cy="270.1" r="2.6"/><circle cx="137.0" cy="264.9" r="2.6"/><circle cx="137.9" cy="266.9" r="2.6"/><circle cx="138.8" cy="267.1" r="2.6"/><circle cx="138.9" cy="268.4" r="2.6"/><circle cx="140.2" cy="268.2" r="2.6"/><circle cx="140.9" cy="266.5" r="2.6"/><circle cx="142.0" cy="268.6" r="2.6"/><circle cx="142.2" cy="271.7" r="2.6"/><circle cx="142.9" cy="271.2" r="2.6"/><circle cx="143.3" cy="275.2" r="2.6"/><circle cx="144.2" cy="275.2" r="2.6"/><circle cx="144.9" cy="271.3" r="2.6"/><circle cx="145.7" cy="264.7" r="2.6"/><circle cx="146.5" cy="264.9" r="2.6"/><circle cx="147.0" cy="269.9" r="2.6"/><circle cx="148.2" cy="264.3" r="2.6"/><circle cx="149.0" cy="267.7" r="2.6"/><circle cx="149.9" cy="268.3" r="2.6"/><circle cx="150.4" cy="267.2" r="2.6"/><circle cx="151.4" cy="266.7" r="2.6"/><circle cx="152.2" cy="270.4" r="2.6"/><circle cx="152.3" cy="267.4" r="2.6"/><circle cx="153.4" cy="268.2" r="2.6"/><circle cx="153.9" cy="267.6" r="2.6"/><circle cx="154.7" cy="263.6" r="2.6"/><circle cx="155.7" cy="262.4" r="2.6"/><circle cx="156.4" cy="260.4" r="2.6"/><circle cx="157.5" cy="256.9" r="2.6"/><circle cx="158.4" cy="257.7" r="2.6"/><circle cx="158.8" cy="258.0" r="2.6"/><circle cx="159.4" cy="256.9" r="2.6"/><circle cx="160.1" cy="261.5" r="2.6"/><circle cx="160.9" cy="262.3" r="2.6"/><circle cx="161.8" cy="262.4" r="2.6"/><circle cx="162.3" cy="258.1" r="2.6"/><circle cx="163.3" cy="262.1" r="2.6"/><circle cx="163.9" cy="259.7" r="2.6"/><circle cx="164.9" cy="258.0" r="2.6"/><circle cx="165.8" cy="255.8" r="2.6"/><circle cx="166.6" cy="251.0" r="2.6"/><circle cx="166.9" cy="253.3" r="2.6"/><circle cx="167.3" cy="250.3" r="2.6"/><circle cx="168.0" cy="257.7" r="2.6"/><circle cx="169.1" cy="253.3" r="2.6"/><circle cx="169.6" cy="257.4" r="2.6"/><circle cx="170.3" cy="254.0" r="2.6"/><circle cx="171.3" cy="256.3" r="2.6"/><circle cx="171.9" cy="258.2" r="2.6"/><circle cx="173.1" cy="258.7" r="2.6"/><circle cx="174.2" cy="256.1" r="2.6"/><circle cx="174.4" cy="253.7" r="2.6"/><circle cx="175.3" cy="247.5" r="2.6"/><circle cx="175.5" cy="252.6" r="2.6"/><circle cx="176.7" cy="245.9" r="2.6"/><circle cx="177.3" cy="249.2" r="2.6"/><circle cx="177.9" cy="248.5" r="2.6"/><circle cx="178.5" cy="247.7" r="2.6"/><circle cx="180.1" cy="249.6" r="2.6"/><circle cx="180.0" cy="246.6" r="2.6"/><circle cx="180.9" cy="257.3" r="2.6"/><circle cx="181.9" cy="254.3" r="2.6"/><circle cx="182.8" cy="258.3" r="2.6"/><circle cx="183.5" cy="256.5" r="2.6"/><circle cx="184.2" cy="260.0" r="2.6"/><circle cx="184.7" cy="258.0" r="2.6"/><circle cx="185.9" cy="260.6" r="2.6"/><circle cx="186.5" cy="261.7" r="2.6"/><circle cx="186.8" cy="262.2" r="2.6"/><circle cx="188.3" cy="263.2" r="2.6"/><circle cx="188.6" cy="259.7" r="2.6"/><circle cx="189.7" cy="257.6" r="2.6"/><circle cx="189.8" cy="256.2" r="2.6"/><circle cx="190.6" cy="260.9" r="2.6"/><circle cx="191.5" cy="255.9" r="2.6"/><circle cx="192.3" cy="260.1" r="2.6"/><circle cx="193.4" cy="254.5" r="2.6"/><circle cx="193.5" cy="258.2" r="2.6"/><circle cx="194.7" cy="262.2" r="2.6"/><circle cx="195.2" cy="262.6" r="2.6"/><circle cx="196.3" cy="269.8" r="2.6"/><circle cx="197.0" cy="269.9" r="2.6"/><circle cx="197.6" cy="263.6" r="2.6"/><circle cx="199.0" cy="265.5" r="2.6"/><circle cx="199.2" cy="268.2" r="2.6"/><circle cx="200.2" cy="272.7" r="2.6"/><circle cx="200.4" cy="273.2" r="2.6"/><circle cx="201.4" cy="273.4" r="2.6"/><circle cx="202.2" cy="272.0" r="2.6"/><circle cx="203.0" cy="273.9" r="2.6"/><circle cx="203.6" cy="272.0" r="2.6"/><circle cx="204.2" cy="274.8" r="2.6"/><circle cx="204.4" cy="279.0" r="2.6"/><circle cx="205.8" cy="280.5" r="2.6"/><circle cx="206.5" cy="278.2" r="2.6"/><circle cx="207.4" cy="281.4" r="2.6"/><circle cx="208.4" cy="284.9" r="2.6"/><circle cx="209.5" cy="283.5" r="2.6"/><circle cx="209.8" cy="283.8" r="2.6"/><circle cx="210.7" cy="286.3" r="2.6"/><circle cx="211.4" cy="287.2" r="2.6"/><circle cx="212.1" cy="287.6" r="2.6"/><circle cx="212.8" cy="287.7" r="2.6"/><circle cx="213.4" cy="287.2" r="2.6"/><circle cx="214.1" cy="286.2" r="2.6"/><circle cx="215.0" cy="283.3" r="2.6"/><circle cx="216.1" cy="285.7" r="2.6"/><circle cx="216.6" cy="284.5" r="2.6"/><circle cx="217.6" cy="284.3" r="2.6"/><circle cx="217.6" cy="285.3" r="2.6"/><circle cx="218.8" cy="283.8" r="2.6"/><circle cx="219.5" cy="282.8" r="2.6"/><circle cx="220.3" cy="280.4" r="2.6"/><circle cx="220.6" cy="278.7" r="2.6"/><circle cx="221.2" cy="282.0" r="2.6"/><circle cx="221.9" cy="277.2" r="2.6"/><circle cx="223.1" cy="277.6" r="2.6"/><circle cx="224.5" cy="277.6" r="2.6"/><circle cx="224.8" cy="279.7" r="2.6"/><circle cx="225.1" cy="280.4" r="2.6"/><circle cx="226.3" cy="281.4" r="2.6"/><circle cx="226.9" cy="278.4" r="2.6"/><circle cx="227.7" cy="275.0" r="2.6"/><circle cx="228.3" cy="277.2" r="2.6"/><circle cx="228.9" cy="277.7" r="2.6"/><circle cx="229.8" cy="276.7" r="2.6"/><circle cx="230.9" cy="276.9" r="2.6"/><circle cx="231.5" cy="278.5" r="2.6"/><circle cx="232.5" cy="280.6" r="2.6"/><circle cx="232.7" cy="279.3" r="2.6"/><circle cx="234.0" cy="278.3" r="2.6"/><circle cx="234.5" cy="280.8" r="2.6"/><circle cx="235.2" cy="282.5" r="2.6"/><circle cx="236.3" cy="281.0" r="2.6"/><circle cx="236.7" cy="283.8" r="2.6"/><circle cx="237.5" cy="279.9" r="2.6"/><circle cx="238.4" cy="280.4" r="2.6"/><circle cx="239.1" cy="278.4" r="2.6"/><circle cx="239.9" cy="277.5" r="2.6"/><circle cx="240.8" cy="280.6" r="2.6"/><circle cx="241.3" cy="277.1" r="2.6"/><circle cx="241.8" cy="276.9" r="2.6"/><circle cx="243.3" cy="278.5" r="2.6"/><circle cx="243.4" cy="279.6" r="2.6"/><circle cx="244.3" cy="278.8" r="2.6"/><circle cx="244.8" cy="277.7" r="2.6"/><circle cx="245.2" cy="280.9" r="2.6"/><circle cx="246.3" cy="281.3" r="2.6"/><circle cx="247.2" cy="284.1" r="2.6"/><circle cx="248.1" cy="280.9" r="2.6"/><circle cx="248.7" cy="282.1" r="2.6"/><circle cx="249.7" cy="280.2" r="2.6"/><circle cx="250.5" cy="277.2" r="2.6"/><circle cx="251.2" cy="278.2" r="2.6"/><circle cx="251.7" cy="278.0" r="2.6"/><circle cx="252.5" cy="273.0" r="2.6"/><circle cx="253.2" cy="271.3" r="2.6"/><circle cx="253.7" cy="268.3" r="2.6"/><circle cx="255.1" cy="273.5" r="2.6"/><circle cx="255.1" cy="271.9" r="2.6"/><circle cx="256.2" cy="274.3" r="2.6"/><circle cx="257.0" cy="269.8" r="2.6"/><circle cx="257.2" cy="269.0" r="2.6"/><circle cx="258.6" cy="266.1" r="2.6"/><circle cx="259.1" cy="261.8" r="2.6"/><circle cx="260.0" cy="264.2" r="2.6"/><circle cx="260.6" cy="264.1" r="2.6"/><circle cx="261.1" cy="259.2" r="2.6"/><circle cx="262.3" cy="261.5" r="2.6"/><circle cx="263.0" cy="260.0" r="2.6"/><circle cx="264.0" cy="258.0" r="2.6"/><circle cx="264.6" cy="258.3" r="2.6"/><circle cx="264.8" cy="255.2" r="2.6"/><circle cx="266.2" cy="259.8" r="2.6"/><circle cx="266.9" cy="262.4" r="2.6"/><circle cx="267.7" cy="260.6" r="2.6"/><circle cx="268.3" cy="265.1" r="2.6"/><circle cx="268.8" cy="270.1" r="2.6"/><circle cx="269.8" cy="270.3" r="2.6"/><circle cx="270.4" cy="271.5" r="2.6"/><circle cx="271.9" cy="273.1" r="2.6"/><circle cx="271.9" cy="277.1" r="2.6"/><circle cx="272.4" cy="278.9" r="2.6"/><circle cx="273.4" cy="281.9" r="2.6"/><circle cx="274.6" cy="278.8" r="2.6"/><circle cx="274.8" cy="279.9" r="2.6"/><circle cx="275.1" cy="274.6" r="2.6"/><circle cx="276.8" cy="273.7" r="2.6"/><circle cx="277.3" cy="269.2" r="2.6"/><circle cx="277.8" cy="266.1" r="2.6"/><circle cx="278.9" cy="264.3" r="2.6"/><circle cx="279.2" cy="260.7" r="2.6"/><circle cx="279.9" cy="259.1" r="2.6"/><circle cx="281.2" cy="259.6" r="2.6"/><circle cx="281.6" cy="259.2" r="2.6"/><circle cx="282.6" cy="259.4" r="2.6"/><circle cx="283.2" cy="261.7" r="2.6"/><circle cx="284.2" cy="257.9" r="2.6"/><circle cx="284.7" cy="251.3" r="2.6"/><circle cx="284.9" cy="247.1" r="2.6"/><circle cx="286.4" cy="240.3" r="2.6"/><circle cx="286.8" cy="236.1" r="2.6"/><circle cx="287.9" cy="230.6" r="2.6"/><circle cx="288.5" cy="226.7" r="2.6"/><circle cx="289.6" cy="221.9" r="2.6"/><circle cx="289.9" cy="209.8" r="2.6"/><circle cx="290.2" cy="211.6" r="2.6"/><circle cx="291.4" cy="206.0" r="2.6"/><circle cx="292.3" cy="200.1" r="2.6"/><circle cx="292.9" cy="207.3" r="2.6"/><circle cx="293.6" cy="211.8" r="2.6"/><circle cx="294.8" cy="218.2" r="2.6"/><circle cx="295.2" cy="220.8" r="2.6"/><circle cx="296.2" cy="230.2" r="2.6"/><circle cx="296.7" cy="236.3" r="2.6"/><circle cx="297.1" cy="241.3" r="2.6"/><circle cx="298.0" cy="247.4" r="2.6"/><circle cx="298.9" cy="249.8" r="2.6"/><circle cx="299.8" cy="252.4" r="2.6"/><circle cx="300.3" cy="259.3" r="2.6"/><circle cx="300.9" cy="260.3" r="2.6"/><circle cx="301.7" cy="264.7" r="2.6"/><circle cx="302.6" cy="253.1" r="2.6"/><circle cx="303.2" cy="247.7" r="2.6"/><circle cx="304.1" cy="244.6" r="2.6"/><circle cx="305.4" cy="239.1" r="2.6"/><circle cx="305.8" cy="236.3" r="2.6"/><circle cx="306.3" cy="236.5" r="2.6"/><circle cx="307.2" cy="237.5" r="2.6"/><circle cx="308.4" cy="240.6" r="2.6"/><circle cx="308.9" cy="239.0" r="2.6"/><circle cx="309.4" cy="241.2" r="2.6"/><circle cx="309.9" cy="242.5" r="2.6"/><circle cx="310.5" cy="245.5" r="2.6"/><circle cx="311.6" cy="251.0" r="2.6"/><circle cx="312.4" cy="242.8" r="2.6"/><circle cx="312.8" cy="236.6" r="2.6"/><circle cx="313.6" cy="232.2" r="2.6"/><circle cx="314.7" cy="235.5" r="2.6"/><circle cx="314.9" cy="237.3" r="2.6"/><circle cx="315.8" cy="236.2" r="2.6"/><circle cx="316.9" cy="238.4" r="2.6"/><circle cx="317.8" cy="236.3" r="2.6"/><circle cx="318.5" cy="237.1" r="2.6"/><circle cx="319.5" cy="233.4" r="2.6"/><circle cx="320.4" cy="234.0" r="2.6"/><circle cx="320.9" cy="236.8" r="2.6"/><circle cx="321.4" cy="233.4" r="2.6"/><circle cx="322.7" cy="235.7" r="2.6"/><circle cx="323.4" cy="235.1" r="2.6"/><circle cx="323.9" cy="234.4" r="2.6"/><circle cx="324.3" cy="234.8" r="2.6"/><circle cx="325.3" cy="235.1" r="2.6"/><circle cx="325.4" cy="235.9" r="2.6"/><circle cx="326.6" cy="235.3" r="2.6"/><circle cx="326.8" cy="236.3" r="2.6"/><circle cx="328.1" cy="240.6" r="2.6"/><circle cx="329.2" cy="238.8" r="2.6"/><circle cx="329.7" cy="238.6" r="2.6"/><circle cx="330.9" cy="238.8" r="2.6"/><circle cx="331.2" cy="237.9" r="2.6"/><circle cx="332.0" cy="239.6" r="2.6"/><circle cx="332.6" cy="239.5" r="2.6"/><circle cx="333.6" cy="241.8" r="2.6"/><circle cx="334.2" cy="240.4" r="2.6"/><circle cx="335.3" cy="239.5" r="2.6"/><circle cx="336.1" cy="242.9" r="2.6"/><circle cx="336.6" cy="245.8" r="2.6"/><circle cx="336.9" cy="249.6" r="2.6"/><circle cx="338.1" cy="249.2" r="2.6"/><circle cx="339.1" cy="248.1" r="2.6"/><circle cx="339.6" cy="250.6" r="2.6"/><circle cx="340.3" cy="251.0" r="2.6"/><circle cx="341.2" cy="252.7" r="2.6"/><circle cx="342.0" cy="252.5" r="2.6"/><circle cx="341.8" cy="251.9" r="2.6"/><circle cx="343.6" cy="254.6" r="2.6"/><circle cx="344.2" cy="254.3" r="2.6"/><circle cx="344.8" cy="253.8" r="2.6"/><circle cx="345.3" cy="254.8" r="2.6"/><circle cx="346.3" cy="257.4" r="2.6"/><circle cx="347.1" cy="255.5" r="2.6"/><circle cx="347.3" cy="255.3" r="2.6"/><circle cx="348.7" cy="258.0" r="2.6"/><circle cx="349.2" cy="256.3" r="2.6"/><circle cx="350.3" cy="260.9" r="2.6"/><circle cx="350.9" cy="259.7" r="2.6"/><circle cx="351.4" cy="260.4" r="2.6"/><circle cx="352.2" cy="261.9" r="2.6"/><circle cx="353.1" cy="262.9" r="2.6"/><circle cx="353.8" cy="258.8" r="2.6"/><circle cx="354.6" cy="260.0" r="2.6"/><circle cx="355.0" cy="258.4" r="2.6"/><circle cx="355.7" cy="255.6" r="2.6"/><circle cx="356.6" cy="258.1" r="2.6"/><circle cx="357.1" cy="255.3" r="2.6"/><circle cx="358.0" cy="253.7" r="2.6"/><circle cx="359.1" cy="253.1" r="2.6"/><circle cx="359.3" cy="251.7" r="2.6"/><circle cx="360.2" cy="251.4" r="2.6"/><circle cx="361.4" cy="247.4" r="2.6"/><circle cx="361.8" cy="248.1" r="2.6"/><circle cx="362.7" cy="245.8" r="2.6"/><circle cx="363.2" cy="244.1" r="2.6"/><circle cx="364.0" cy="243.4" r="2.6"/><circle cx="364.9" cy="244.3" r="2.6"/><circle cx="366.1" cy="241.4" r="2.6"/><circle cx="366.6" cy="241.2" r="2.6"/><circle cx="366.8" cy="242.8" r="2.6"/><circle cx="368.1" cy="244.8" r="2.6"/><circle cx="368.9" cy="243.3" r="2.6"/><circle cx="369.6" cy="242.1" r="2.6"/><circle cx="369.9" cy="240.8" r="2.6"/><circle cx="370.9" cy="237.2" r="2.6"/><circle cx="372.2" cy="239.6" r="2.6"/><circle cx="372.2" cy="237.7" r="2.6"/><circle cx="373.3" cy="241.1" r="2.6"/><circle cx="373.8" cy="240.0" r="2.6"/><circle cx="374.4" cy="239.4" r="2.6"/><circle cx="375.4" cy="239.6" r="2.6"/><circle cx="376.5" cy="239.0" r="2.6"/><circle cx="377.3" cy="238.3" r="2.6"/><circle cx="377.5" cy="238.9" r="2.6"/><circle cx="378.3" cy="238.2" r="2.6"/><circle cx="379.0" cy="237.7" r="2.6"/><circle cx="379.4" cy="240.4" r="2.6"/><circle cx="380.9" cy="242.8" r="2.6"/><circle cx="381.9" cy="243.2" r="2.6"/><circle cx="382.6" cy="242.7" r="2.6"/><circle cx="382.8" cy="244.7" r="2.6"/><circle cx="384.0" cy="244.4" r="2.6"/><circle cx="384.7" cy="246.4" r="2.6"/><circle cx="385.1" cy="246.1" r="2.6"/><circle cx="386.0" cy="248.1" r="2.6"/><circle cx="386.6" cy="253.4" r="2.6"/><circle cx="387.5" cy="254.8" r="2.6"/><circle cx="388.7" cy="257.3" r="2.6"/><circle cx="388.7" cy="252.1" r="2.6"/><circle cx="389.4" cy="250.0" r="2.6"/><circle cx="390.7" cy="249.0" r="2.6"/><circle cx="391.2" cy="248.3" r="2.6"/><circle cx="391.5" cy="245.8" r="2.6"/><circle cx="392.5" cy="245.9" r="2.6"/><circle cx="393.3" cy="243.6" r="2.6"/><circle cx="394.1" cy="246.6" r="2.6"/><circle cx="395.0" cy="246.6" r="2.6"/><circle cx="396.0" cy="244.3" r="2.6"/><circle cx="396.4" cy="247.7" r="2.6"/><circle cx="397.3" cy="248.1" r="2.6"/><circle cx="397.8" cy="251.2" r="2.6"/><circle cx="399.0" cy="250.2" r="2.6"/><circle cx="399.8" cy="252.3" r="2.6"/><circle cx="400.2" cy="253.6" r="2.6"/><circle cx="400.8" cy="250.4" r="2.6"/><circle cx="402.2" cy="252.5" r="2.6"/><circle cx="402.7" cy="256.1" r="2.6"/><circle cx="403.0" cy="256.8" r="2.6"/><circle cx="403.5" cy="259.3" r="2.6"/><circle cx="404.6" cy="257.8" r="2.6"/><circle cx="405.8" cy="255.4" r="2.6"/><circle cx="406.1" cy="257.0" r="2.6"/><circle cx="406.9" cy="255.1" r="2.6"/><circle cx="407.6" cy="255.2" r="2.6"/><circle cx="408.6" cy="254.4" r="2.6"/><circle cx="409.6" cy="255.0" r="2.6"/><circle cx="409.7" cy="252.2" r="2.6"/><circle cx="410.6" cy="251.6" r="2.6"/><circle cx="411.4" cy="249.2" r="2.6"/><circle cx="412.1" cy="253.9" r="2.6"/><circle cx="412.7" cy="248.8" r="2.6"/><circle cx="413.9" cy="248.2" r="2.6"/><circle cx="414.5" cy="247.0" r="2.6"/><circle cx="415.4" cy="247.0" r="2.6"/><circle cx="416.3" cy="246.5" r="2.6"/><circle cx="416.6" cy="246.9" r="2.6"/><circle cx="417.6" cy="245.3" r="2.6"/><circle cx="418.1" cy="244.5" r="2.6"/><circle cx="418.9" cy="242.3" r="2.6"/><circle cx="419.8" cy="242.4" r="2.6"/><circle cx="420.4" cy="243.6" r="2.6"/><circle cx="420.8" cy="241.5" r="2.6"/><circle cx="422.3" cy="241.4" r="2.6"/><circle cx="422.8" cy="237.0" r="2.6"/><circle cx="423.2" cy="238.8" r="2.6"/><circle cx="423.7" cy="236.8" r="2.6"/><circle cx="425.0" cy="236.3" r="2.6"/><circle cx="425.9" cy="229.2" r="2.6"/><circle cx="426.7" cy="231.6" r="2.6"/><circle cx="427.5" cy="230.6" r="2.6"/><circle cx="427.9" cy="230.1" r="2.6"/><circle cx="428.9" cy="228.1" r="2.6"/><circle cx="429.1" cy="228.1" r="2.6"/><circle cx="430.3" cy="227.6" r="2.6"/><circle cx="431.2" cy="225.6" r="2.6"/><circle cx="431.6" cy="224.0" r="2.6"/><circle cx="432.4" cy="222.8" r="2.6"/><circle cx="433.2" cy="222.7" r="2.6"/><circle cx="434.0" cy="227.7" r="2.6"/><circle cx="435.1" cy="231.2" r="2.6"/><circle cx="435.2" cy="231.4" r="2.6"/><circle cx="436.6" cy="235.7" r="2.6"/><circle cx="436.7" cy="231.7" r="2.6"/><circle cx="437.6" cy="233.8" r="2.6"/><circle cx="438.3" cy="232.6" r="2.6"/><circle cx="439.2" cy="234.4" r="2.6"/><circle cx="439.8" cy="234.0" r="2.6"/><circle cx="440.8" cy="235.7" r="2.6"/><circle cx="441.5" cy="234.9" r="2.6"/><circle cx="442.8" cy="234.3" r="2.6"/><circle cx="443.1" cy="236.4" r="2.6"/><circle cx="443.7" cy="237.7" r="2.6"/><circle cx="444.6" cy="235.5" r="2.6"/><circle cx="445.4" cy="233.7" r="2.6"/><circle cx="445.9" cy="230.7" r="2.6"/><circle cx="446.4" cy="231.4" r="2.6"/><circle cx="447.3" cy="231.6" r="2.6"/><circle cx="448.3" cy="229.6" r="2.6"/><circle cx="449.2" cy="231.2" r="2.6"/><circle cx="449.8" cy="230.4" r="2.6"/><circle cx="450.5" cy="231.4" r="2.6"/><circle cx="451.4" cy="230.8" r="2.6"/><circle cx="451.8" cy="231.3" r="2.6"/><circle cx="452.8" cy="233.2" r="2.6"/><circle cx="453.8" cy="234.4" r="2.6"/><circle cx="454.5" cy="235.3" r="2.6"/><circle cx="455.3" cy="234.6" r="2.6"/><circle cx="455.6" cy="233.6" r="2.6"/><circle cx="456.5" cy="233.0" r="2.6"/><circle cx="457.0" cy="228.9" r="2.6"/><circle cx="458.2" cy="230.4" r="2.6"/><circle cx="458.6" cy="227.3" r="2.6"/><circle cx="459.1" cy="225.7" r="2.6"/><circle cx="460.1" cy="224.2" r="2.6"/><circle cx="461.0" cy="225.7" r="2.6"/><circle cx="461.2" cy="223.8" r="2.6"/><circle cx="462.1" cy="226.1" r="2.6"/><circle cx="463.5" cy="223.6" r="2.6"/><circle cx="464.0" cy="220.7" r="2.6"/><circle cx="464.7" cy="223.1" r="2.6"/><circle cx="465.1" cy="219.9" r="2.6"/><circle cx="466.6" cy="217.7" r="2.6"/><circle cx="467.2" cy="215.8" r="2.6"/><circle cx="467.9" cy="213.7" r="2.6"/><circle cx="468.2" cy="211.9" r="2.6"/><circle cx="469.4" cy="210.7" r="2.6"/><circle cx="470.3" cy="209.6" r="2.6"/><circle cx="470.6" cy="207.3" r="2.6"/><circle cx="471.4" cy="205.9" r="2.6"/><circle cx="472.1" cy="206.1" r="2.6"/><circle cx="473.1" cy="207.1" r="2.6"/><circle cx="473.7" cy="207.3" r="2.6"/><circle cx="474.4" cy="207.4" r="2.6"/><circle cx="474.9" cy="201.8" r="2.6"/><circle cx="475.6" cy="202.1" r="2.6"/><circle cx="477.0" cy="200.2" r="2.6"/><circle cx="477.9" cy="198.1" r="2.6"/><circle cx="478.4" cy="196.5" r="2.6"/><circle cx="479.3" cy="193.8" r="2.6"/><circle cx="479.6" cy="195.0" r="2.6"/><circle cx="480.5" cy="196.0" r="2.6"/><circle cx="481.3" cy="198.6" r="2.6"/><circle cx="481.9" cy="199.9" r="2.6"/><circle cx="483.1" cy="201.2" r="2.6"/><circle cx="483.1" cy="198.9" r="2.6"/><circle cx="484.1" cy="198.0" r="2.6"/><circle cx="484.9" cy="196.7" r="2.6"/><circle cx="485.5" cy="193.7" r="2.6"/><circle cx="486.7" cy="195.0" r="2.6"/><circle cx="486.7" cy="192.1" r="2.6"/><circle cx="488.3" cy="192.7" r="2.6"/><circle cx="488.9" cy="190.4" r="2.6"/><circle cx="489.5" cy="190.1" r="2.6"/><circle cx="490.6" cy="188.6" r="2.6"/><circle cx="491.6" cy="188.1" r="2.6"/><circle cx="491.8" cy="184.1" r="2.6"/><circle cx="492.7" cy="184.5" r="2.6"/><circle cx="493.3" cy="180.3" r="2.6"/><circle cx="494.1" cy="180.4" r="2.6"/><circle cx="494.6" cy="179.9" r="2.6"/><circle cx="495.3" cy="179.3" r="2.6"/><circle cx="496.4" cy="179.5" r="2.6"/><circle cx="496.8" cy="178.8" r="2.6"/><circle cx="498.0" cy="176.2" r="2.6"/><circle cx="498.7" cy="179.3" r="2.6"/><circle cx="499.1" cy="177.8" r="2.6"/><circle cx="500.1" cy="182.9" r="2.6"/><circle cx="500.7" cy="182.2" r="2.6"/><circle cx="501.4" cy="183.2" r="2.6"/><circle cx="502.5" cy="184.1" r="2.6"/><circle cx="503.0" cy="185.8" r="2.6"/><circle cx="503.8" cy="187.3" r="2.6"/><circle cx="504.0" cy="186.6" r="2.6"/><circle cx="505.4" cy="187.7" r="2.6"/><circle cx="505.6" cy="186.3" r="2.6"/><circle cx="506.6" cy="184.1" r="2.6"/><circle cx="507.9" cy="182.3" r="2.6"/><circle cx="508.7" cy="184.0" r="2.6"/><circle cx="508.9" cy="182.9" r="2.6"/><circle cx="509.4" cy="187.9" r="2.6"/><circle cx="510.6" cy="181.5" r="2.6"/><circle cx="511.1" cy="181.3" r="2.6"/><circle cx="55.0" cy="203.0" r="2.6"/><circle cx="69.0" cy="243.0" r="2.6"/><circle cx="123.0" cy="252.0" r="2.6"/><circle cx="173.0" cy="209.0" r="2.6"/><circle cx="178.0" cy="236.0" r="2.6"/><circle cx="225.0" cy="270.0" r="2.6"/></g>
<path d="M49.2 297.3V1.6" stroke="#d2d6da" stroke-width="1" fill="none"/>
<path d="M49.2 1.6H511.3" stroke="#b8b8b8" stroke-width="1" fill="none"/>
<path d="M49.2 297.3H511.3V1.6" stroke="#3a3a3a" stroke-width="1.1" fill="none"/>
<path d="M86.00 297.3v1.8 M86.00 1.6v-1 M124.75 297.3v1.8 M124.75 1.6v-1 M163.50 297.3v1.8 M163.50 1.6v-1 M202.25 297.3v1.8 M202.25 1.6v-1 M241.00 297.3v1.8 M241.00 1.6v-1 M279.75 297.3v1.8 M279.75 1.6v-1 M318.50 297.3v1.8 M318.50 1.6v-1 M357.25 297.3v1.8 M357.25 1.6v-1 M396.00 297.3v1.8 M396.00 1.6v-1 M434.75 297.3v1.8 M434.75 1.6v-1 M473.50 297.3v1.8 M473.50 1.6v-1 M48.7 32.00h-3.3 M511.3 32.00h3.5 M48.7 88.50h-3.3 M511.3 88.50h3.5 M48.7 145.00h-3.3 M511.3 145.00h3.5 M48.7 201.50h-3.3 M511.3 201.50h3.5 M48.7 258.00h-3.3 M511.3 258.00h3.5" stroke="#666" stroke-width="0.8" fill="none"/>
<text x="39.3" y="36.6" font-size="12" font-weight="bold" text-anchor="end" textLength="14.6" lengthAdjust="spacingAndGlyphs">65</text>
<text x="39.3" y="93.1" font-size="12" font-weight="bold" text-anchor="end" textLength="14.6" lengthAdjust="spacingAndGlyphs">60</text>
<text x="39.3" y="149.6" font-size="12" font-weight="bold" text-anchor="end" textLength="14.6" lengthAdjust="spacingAndGlyphs">55</text>
<text x="39.3" y="206.1" font-size="12" font-weight="bold" text-anchor="end" textLength="14.6" lengthAdjust="spacingAndGlyphs">50</text>
<text x="39.3" y="262.6" font-size="12" font-weight="bold" text-anchor="end" textLength="14.6" lengthAdjust="spacingAndGlyphs">45</text>
<text x="31.9" y="312.3" font-size="13" textLength="33.7" lengthAdjust="spacingAndGlyphs">00:00</text>
<text x="142.7" y="312.3" font-size="13" textLength="33.6" lengthAdjust="spacingAndGlyphs">06:00</text>
<text x="253.8" y="312.3" font-size="13" textLength="40.7" lengthAdjust="spacingAndGlyphs">012:00</text>
<text x="375" y="312.3" font-size="13" textLength="33.0" lengthAdjust="spacingAndGlyphs">18:00</text>
<text x="485.7" y="312.3" font-size="13" textLength="31.3" lengthAdjust="spacingAndGlyphs">24:00</text>
<text x="174" y="330.8" font-size="12.5" textLength="212.5" lengthAdjust="spacingAndGlyphs">Time on September 10, 2019 (GMT)</text>
<text transform="translate(11.1,263) rotate(-90)" font-size="12.5" font-weight="bold" textLength="235.5" lengthAdjust="spacingAndGlyphs">Noise Spectrum Level (dB re 1 <tspan font-style="italic">μ</tspan>Pa<tspan font-size="8" dy="-4">2</tspan><tspan dy="4">//Hz)</tspan></text>
<rect x="380.9" y="7.9" width="123.3" height="29.9" fill="#fff"/>
<path d="M380.9 37.8V7.9H504.2" stroke="#9a9a9a" stroke-width="1" fill="none"/>
<path d="M380.9 37.8H504.2V7.9" stroke="#333" stroke-width="1.1" fill="none"/>
<circle cx="397.1" cy="16.8" r="2.1" fill="#f5a30f"/><circle cx="397.1" cy="29.7" r="2.1" fill="#6b12f2"/>
<text x="412.2" y="20.8" font-size="10.5" font-weight="bold" textLength="88" lengthAdjust="spacingAndGlyphs">Omni Noise (dB)</text>
<text x="412.2" y="33.8" font-size="10.5" font-weight="bold" textLength="88" lengthAdjust="spacingAndGlyphs">Beam Noise (dB)</text>
<path d="M109.80 345.5V464.6 M154.80 345.5V464.6 M64.8 346.00H177.5 M64.8 375.80H177.5 M64.8 405.60H177.5 M64.8 435.40H177.5" stroke="#f1f1f1" stroke-width="1" fill="none"/>
<clipPath id="c64"><rect x="64.8" y="345.5" width="112.7" height="119.10000000000002"/></clipPath>
<g clip-path="url(#c64)" fill="#4fc1f2" stroke="#0e2a45" stroke-width="0.75"><rect x="67.3" y="460.5" width="1.70" height="6.10" /><rect x="69.3" y="405" width="2.30" height="61.60" /><rect x="71.6" y="376.6" width="2.70" height="90.00" stroke="#3f9fd6" stroke-width="0.5"/><rect x="74.3" y="371" width="2.00" height="95.60" stroke="#3f9fd6" stroke-width="0.5"/><rect x="76.3" y="350.4" width="2.20" height="116.20" /><rect x="78.5" y="357" width="1.90" height="109.60" /><rect x="80.4" y="416.6" width="3.10" height="50.00" /><rect x="83.5" y="445" width="3.10" height="21.60" /><rect x="86.6" y="447.4" width="2.60" height="19.20" /><rect x="89.2" y="441" width="3.10" height="25.60" /><rect x="92.3" y="462" width="2.00" height="4.60" /></g>
<path d="M64.8 464.6V345.5" stroke="#bcc0c4" stroke-width="1" fill="none"/>
<path d="M64.8 345.5H177.5" stroke="#a8a8a8" stroke-width="1" fill="none"/>
<path d="M64.8 464.6H177.5V345.5" stroke="#555" stroke-width="1" fill="none"/>
<path d="M64.3 346.00h-2.5 M64.3 375.80h-2.5 M64.3 405.60h-2.5 M64.3 435.40h-2.5 M64.3 464.60h-2.5 M109.80 464.6v2 M154.80 464.6v2 M65.40 464.6v2 M177.5 346.00h2 M177.5 375.80h2 M177.5 405.60h2 M177.5 435.40h2" stroke="#777" stroke-width="0.8" fill="none"/>
<text x="59.6" y="350.8" font-size="13" font-weight="bold" text-anchor="end" textLength="18" lengthAdjust="spacingAndGlyphs">0.2</text>
<text x="59.6" y="380.6" font-size="13" font-weight="bold" text-anchor="end" textLength="25.2" lengthAdjust="spacingAndGlyphs">0.15</text>
<text x="59.6" y="410.1" font-size="13" font-weight="bold" text-anchor="end" textLength="18" lengthAdjust="spacingAndGlyphs">0.1</text>
<text x="59.6" y="440.7" font-size="13" font-weight="bold" text-anchor="end" textLength="25.2" lengthAdjust="spacingAndGlyphs">0.05</text>
<text x="59.6" y="469.8" font-size="13" font-weight="bold" text-anchor="end" textLength="6.5" lengthAdjust="spacingAndGlyphs">0</text>
<text x="65.4" y="482.3" font-size="13" font-weight="bold" text-anchor="middle" textLength="13.8" lengthAdjust="spacingAndGlyphs">40</text>
<text x="109.7" y="482.3" font-size="13" font-weight="bold" text-anchor="middle" textLength="13.8" lengthAdjust="spacingAndGlyphs">60</text>
<text x="153.6" y="482.3" font-size="13" font-weight="bold" text-anchor="middle" textLength="13.8" lengthAdjust="spacingAndGlyphs">80</text>
<text transform="translate(26,412.7) rotate(-90)" font-size="13" textLength="29.7" lengthAdjust="spacingAndGlyphs">Prob.</text>
<text x="115.5" y="362.4" font-size="13" textLength="48" lengthAdjust="spacingAndGlyphs"><tspan font-style="italic">μ</tspan> = 45.7</text>
<text x="115.5" y="378.5" font-size="13" textLength="41" lengthAdjust="spacingAndGlyphs"><tspan font-style="italic">σ</tspan> = 2.3</text>
<text x="120.6" y="496" font-size="13" text-anchor="middle" textLength="104" lengthAdjust="spacingAndGlyphs">Beam Noise Level</text>
<text x="120.6" y="513.8" font-size="13" text-anchor="middle" textLength="113" lengthAdjust="spacingAndGlyphs">(dB re 1 <tspan font-style="italic">μ</tspan>Pa<tspan font-size="8.5" dy="-4">2</tspan><tspan dy="4">//Hz )</tspan></text>
<path d="M277.80 345.3V464.2 M322.00 345.3V464.2 M233 352.50H343.2 M233 380.40H343.2 M233 408.30H343.2 M233 436.20H343.2" stroke="#f1f1f1" stroke-width="1" fill="none"/>
<clipPath id="c233"><rect x="233" y="345.3" width="110.19999999999999" height="118.89999999999998"/></clipPath>
<g clip-path="url(#c233)" fill="#4fc1f2" stroke="#0e2a45" stroke-width="0.75"><rect x="268.6" y="461.5" width="1.50" height="4.70" /><rect x="269.6" y="426.6" width="2.70" height="39.60" /><rect x="272.3" y="396.6" width="2.20" height="69.60" /><rect x="274.5" y="381.5" width="2.70" height="84.70" /><rect x="277.2" y="344" width="1.00" height="122.20" /><rect x="278.2" y="361" width="3.80" height="105.20" /><rect x="282" y="405.5" width="2.30" height="60.70" /><rect x="284.3" y="437.8" width="2.30" height="28.40" /><rect x="286.6" y="441" width="1.50" height="25.20" /><rect x="288.1" y="445" width="2.00" height="21.20" /><rect x="290.1" y="449" width="2.30" height="17.20" stroke="#3f9fd6" stroke-width="0.5"/><rect x="292.4" y="461.5" width="2.40" height="4.70" /></g>
<path d="M233 464.2V345.3" stroke="#bcc0c4" stroke-width="1" fill="none"/>
<path d="M233 345.3H343.2" stroke="#a8a8a8" stroke-width="1" fill="none"/>
<path d="M233 464.2H343.2V345.3" stroke="#555" stroke-width="1" fill="none"/>
<path d="M232.5 352.50h-2.5 M232.5 380.40h-2.5 M232.5 408.30h-2.5 M232.5 436.20h-2.5 M232.5 464.20h-2.5 M277.80 464.2v2 M322.00 464.2v2 M233.20 464.2v2 M343.2 352.50h2 M343.2 380.40h2 M343.2 408.30h2 M343.2 436.20h2" stroke="#777" stroke-width="0.8" fill="none"/>
<text x="227.4" y="356.8" font-size="13" font-weight="bold" text-anchor="end" textLength="18" lengthAdjust="spacingAndGlyphs">0.2</text>
<text x="227.4" y="384.7" font-size="13" font-weight="bold" text-anchor="end" textLength="25.2" lengthAdjust="spacingAndGlyphs">0.15</text>
<text x="227.4" y="412.8" font-size="13" font-weight="bold" text-anchor="end" textLength="18" lengthAdjust="spacingAndGlyphs">0.1</text>
<text x="227.4" y="440.8" font-size="13" font-weight="bold" text-anchor="end" textLength="25.2" lengthAdjust="spacingAndGlyphs">0.05</text>
<text x="227.4" y="468.9" font-size="13" font-weight="bold" text-anchor="end" textLength="6.5" lengthAdjust="spacingAndGlyphs">0</text>
<text x="233.2" y="482.3" font-size="13" font-weight="bold" text-anchor="middle" textLength="13.8" lengthAdjust="spacingAndGlyphs">40</text>
<text x="278" y="482.3" font-size="13" font-weight="bold" text-anchor="middle" textLength="13.8" lengthAdjust="spacingAndGlyphs">60</text>
<text x="321.8" y="482.3" font-size="13" font-weight="bold" text-anchor="middle" textLength="13.8" lengthAdjust="spacingAndGlyphs">80</text>
<text transform="translate(194.2,412.7) rotate(-90)" font-size="13" textLength="29.7" lengthAdjust="spacingAndGlyphs">Prob.</text>
<text x="287.2" y="362.4" font-size="13" textLength="48.6" lengthAdjust="spacingAndGlyphs"><tspan font-style="italic">μ</tspan> = 61.0</text>
<text x="290" y="378.5" font-size="13" textLength="41.5" lengthAdjust="spacingAndGlyphs"><tspan font-style="italic">σ</tspan> = 2.2</text>
<text x="287" y="496" font-size="13" text-anchor="middle" textLength="104.5" lengthAdjust="spacingAndGlyphs">Omni Noise Level</text>
<text x="287" y="513.8" font-size="13" text-anchor="middle" textLength="112" lengthAdjust="spacingAndGlyphs">(dB re 1 <tspan font-style="italic">μ</tspan>Pa<tspan font-size="8.5" dy="-4">2</tspan><tspan dy="4">//Hz )</tspan></text>
<path d="M438.50 345.3V464.3 M472.60 345.3V464.3 M400.7 358.10H511.5 M400.7 384.80H511.5 M400.7 411.40H511.5 M400.7 438.00H511.5" stroke="#f1f1f1" stroke-width="1" fill="none"/>
<clipPath id="c400"><rect x="400.7" y="345.3" width="110.80000000000001" height="119.0"/></clipPath>
<g clip-path="url(#c400)" fill="#4fc1f2" stroke="#0e2a45" stroke-width="0.75"><rect x="451.6" y="355.4" width="4.20" height="110.90" stroke="#3f9fd6" stroke-width="0.5"/><rect x="455.8" y="344" width="3.10" height="122.30" stroke="#3f9fd6" stroke-width="0.5"/><rect x="458.9" y="344" width="0.10" height="122.30" /><rect x="459.2" y="442.7" width="3.50" height="23.60" /><rect x="462.7" y="455.8" width="2.70" height="10.50" /><rect x="465.4" y="460.5" width="2.70" height="5.80" /><rect x="468.1" y="462.6" width="3.90" height="3.70" /><rect x="472" y="463.6" width="3.50" height="2.70" /></g>
<path d="M400.7 464.3V345.3" stroke="#bcc0c4" stroke-width="1" fill="none"/>
<path d="M400.7 345.3H511.5" stroke="#a8a8a8" stroke-width="1" fill="none"/>
<path d="M400.7 464.3H511.5V345.3" stroke="#555" stroke-width="1" fill="none"/>
<path d="M400.2 358.10h-2.5 M400.2 384.80h-2.5 M400.2 411.40h-2.5 M400.2 438.00h-2.5 M400.2 464.30h-2.5 M438.50 464.3v2 M472.60 464.3v2 M405.00 464.3v2 M511.5 358.10h2 M511.5 384.80h2 M511.5 411.40h2 M511.5 438.00h2" stroke="#777" stroke-width="0.8" fill="none"/>
<text x="394.6" y="362.4" font-size="13" font-weight="bold" text-anchor="end" textLength="18" lengthAdjust="spacingAndGlyphs">0.4</text>
<text x="394.6" y="389.1" font-size="13" font-weight="bold" text-anchor="end" textLength="18" lengthAdjust="spacingAndGlyphs">0.3</text>
<text x="394.6" y="415.7" font-size="13" font-weight="bold" text-anchor="end" textLength="18" lengthAdjust="spacingAndGlyphs">0.2</text>
<text x="394.6" y="442.5" font-size="13" font-weight="bold" text-anchor="end" textLength="18" lengthAdjust="spacingAndGlyphs">0.1</text>
<text x="394.6" y="468.9" font-size="13" font-weight="bold" text-anchor="end" textLength="6.5" lengthAdjust="spacingAndGlyphs">0</text>
<text x="405" y="482.3" font-size="13" font-weight="bold" text-anchor="middle" textLength="6.8" lengthAdjust="spacingAndGlyphs">0</text>
<text x="439" y="482.3" font-size="13" font-weight="bold" text-anchor="middle" textLength="13.8" lengthAdjust="spacingAndGlyphs">10</text>
<text x="472.9" y="482.3" font-size="13" font-weight="bold" text-anchor="middle" textLength="13.8" lengthAdjust="spacingAndGlyphs">20</text>
<text x="505.4" y="482.3" font-size="13" font-weight="bold" text-anchor="middle" textLength="13.8" lengthAdjust="spacingAndGlyphs">30</text>
<text transform="translate(368.6,412.7) rotate(-90)" font-size="13" textLength="29.7" lengthAdjust="spacingAndGlyphs">Prob.</text>
<text x="460.4" y="362.4" font-size="13" textLength="47" lengthAdjust="spacingAndGlyphs"><tspan font-style="italic">μ</tspan> = 15.3</text>
<text x="463.5" y="378.5" font-size="13" textLength="40.8" lengthAdjust="spacingAndGlyphs"><tspan font-style="italic">σ</tspan> = 0.9</text>
<text x="454.7" y="496" font-size="13" text-anchor="middle" textLength="63.2" lengthAdjust="spacingAndGlyphs">Array Gain</text>
<text x="454.7" y="513.8" font-size="13" text-anchor="middle" textLength="23.7" lengthAdjust="spacingAndGlyphs">(dB)</text>
</svg>
</body></html>
